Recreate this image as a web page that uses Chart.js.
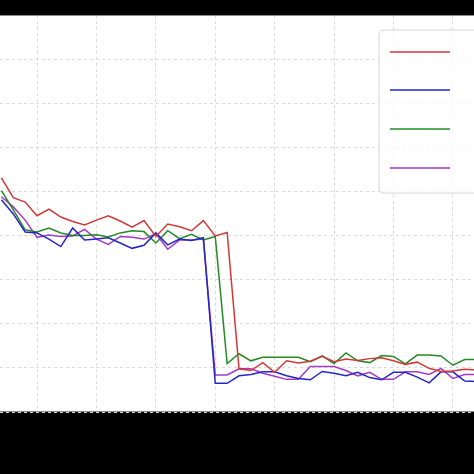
<!DOCTYPE html>
<html lang="en">
<head>
  <meta charset="UTF-8" />
  <title>Training curves</title>
  <script src="https://cdn.jsdelivr.net/npm/chart.js"></script>
  <style>
    html, body { margin: 0; padding: 0; background: #000; overflow: hidden; }
    .frame { position: relative; width: 474px; height: 474px; overflow: hidden; background: #000; }
    #curves { position: absolute; left: -60px; top: 0; }
  </style>
</head>
<body>
  <div class="frame">
    <canvas id="curves" width="694" height="474"></canvas>
  </div>

  <script>
    // x positions (epochs) and the four series
    const epochs = [2, 3, 4, 5, 6, 7, 8, 9, 10, 11, 12, 13, 14, 15, 16, 17, 18, 19, 20, 21,
      22, 23, 24, 25, 26, 27, 28, 29, 30, 31, 32, 33, 34, 35, 36, 37, 38, 39, 40, 41, 42];

    const seriesNames = ["Run A", "Run B", "Run C", "Run D"];

    const redVals = [0.531, 0.486, 0.476, 0.445, 0.460, 0.442, 0.432, 0.424, 0.435, 0.445,
      0.433, 0.419, 0.434, 0.398, 0.426, 0.420, 0.411, 0.434, 0.399, 0.407,
      0.098, 0.094, 0.112, 0.090, 0.116, 0.111, 0.115, 0.126, 0.114, 0.120,
      0.117, 0.121, 0.123, 0.116, 0.108, 0.113, 0.099, 0.092, 0.093, 0.097, 0.095];

    const blueVals = [0.481, 0.449, 0.408, 0.406, 0.392, 0.375, 0.417, 0.390, 0.392, 0.395,
      0.383, 0.371, 0.378, 0.406, 0.379, 0.392, 0.389, 0.395, 0.065, 0.065,
      0.082, 0.085, 0.091, 0.091, 0.082, 0.076, 0.073, 0.092, 0.088, 0.082,
      0.090, 0.078, 0.073, 0.090, 0.090, 0.079, 0.066, 0.091, 0.091, 0.070, 0.069];

    const greenVals = [0.502, 0.458, 0.413, 0.408, 0.417, 0.406, 0.400, 0.400, 0.402, 0.397,
      0.406, 0.411, 0.409, 0.383, 0.411, 0.393, 0.403, 0.390, 0.398, 0.110,
      0.132, 0.116, 0.124, 0.124, 0.124, 0.124, 0.114, 0.127, 0.110, 0.134,
      0.116, 0.112, 0.128, 0.126, 0.109, 0.129, 0.129, 0.127, 0.106, 0.119, 0.119];

    const purpleVals = [0.488, 0.465, 0.435, 0.396, 0.401, 0.398, 0.399, 0.414, 0.392, 0.380,
      0.398, 0.396, 0.392, 0.404, 0.369, 0.390, 0.390, 0.392, 0.084, 0.084,
      0.098, 0.098, 0.088, 0.081, 0.074, 0.074, 0.103, 0.103, 0.103, 0.094,
      0.082, 0.090, 0.074, 0.074, 0.091, 0.091, 0.085, 0.099, 0.076, 0.085, 0.085];

    const yTicks = [0, 0.1, 0.2, 0.3, 0.4, 0.5, 0.6, 0.7, 0.8, 0.9];

    const colors = ["#d23838", "#2626c4", "#258a25", "#a23ac6"];
    const allVals = [redVals, blueVals, greenVals, purpleVals];

    const datasets = allVals.map((vals, i) => ({
      label: seriesNames[i],
      data: vals.map((v, j) => ({ x: epochs[j], y: v })),
      borderColor: colors[i],
      borderWidth: 1.5,
      pointRadius: 0,
      tension: 0,
      fill: false
    }));

    const frameAndLegend = {
      id: "frameAndLegend",
      beforeDraw(chart) {
        const { ctx, chartArea: a } = chart;
        ctx.save();
        ctx.fillStyle = "#fff";
        ctx.fillRect(a.left, a.top, a.right - a.left, a.bottom - a.top);
        ctx.restore();
      },
      afterDraw(chart) {
        const { ctx, chartArea: a } = chart;
        ctx.save();
        // top / bottom spines
        ctx.strokeStyle = "#8a8a8a";
        ctx.lineWidth = 1;
        ctx.beginPath();
        ctx.moveTo(a.left, a.top + 0.5);
        ctx.lineTo(a.right, a.top + 0.5);
        ctx.moveTo(a.left, a.bottom - 0.5);
        ctx.lineTo(a.right, a.bottom - 0.5);
        ctx.stroke();

        // legend box, mostly cut off on the right
        const bx = a.left + 379, by = 30, bw = 230, bh = 163, r = 5;
        ctx.beginPath();
        ctx.moveTo(bx + r, by);
        ctx.lineTo(bx + bw - r, by);
        ctx.quadraticCurveTo(bx + bw, by, bx + bw, by + r);
        ctx.lineTo(bx + bw, by + bh - r);
        ctx.quadraticCurveTo(bx + bw, by + bh, bx + bw - r, by + bh);
        ctx.lineTo(bx + r, by + bh);
        ctx.quadraticCurveTo(bx, by + bh, bx, by + bh - r);
        ctx.lineTo(bx, by + r);
        ctx.quadraticCurveTo(bx, by, bx + r, by);
        ctx.closePath();
        ctx.fillStyle = "rgba(255,255,255,0.8)";
        ctx.fill();
        ctx.strokeStyle = "#d6d6d6";
        ctx.stroke();

        const rowsY = [52, 90, 129, 168];
        chart.data.datasets.forEach((ds, i) => {
          ctx.strokeStyle = ds.borderColor;
          ctx.lineWidth = 1.6;
          ctx.beginPath();
          ctx.moveTo(a.left + 390, rowsY[i]);
          ctx.lineTo(a.left + 450, rowsY[i]);
          ctx.stroke();
          ctx.fillStyle = "#000";
          ctx.font = "24px 'DejaVu Sans'";
          ctx.textBaseline = "middle";
          ctx.fillText(ds.label, a.left + 480, rowsY[i]);
        });
        ctx.restore();
      }
    };

    new Chart(document.getElementById("curves").getContext("2d"), {
      type: "line",
      data: { datasets },
      options: {
        responsive: false,
        animation: false,
        devicePixelRatio: 1,
        layout: { padding: { top: 15, right: 114, left: 0, bottom: 0 } },
        plugins: {
          legend: { display: false },
          tooltip: { enabled: false }
        },
        scales: {
          x: {
            type: "linear",
            min: 1.882,
            max: 45.65,
            ticks: { stepSize: 5, includeBounds: false, color: "#000", font: { size: 14 } },
            grid: { color: "#dadada", lineWidth: 1, drawTicks: false },
            border: { display: false, dash: [3, 3] },
            afterFit(scale) { scale.height = 62; }
          },
          y: {
            min: 0,
            max: 0.9,
            afterBuildTicks(scale) { scale.ticks = yTicks.map(v => ({ value: v })); },
            ticks: { color: "#000", font: { size: 14 } },
            grid: { color: "#dadada", lineWidth: 1, drawTicks: false },
            border: { display: false, dash: [3, 3] },
            afterFit(scale) { scale.width = 60; }
          }
        }
      },
      plugins: [frameAndLegend]
    });
  </script>
</body>
</html>
